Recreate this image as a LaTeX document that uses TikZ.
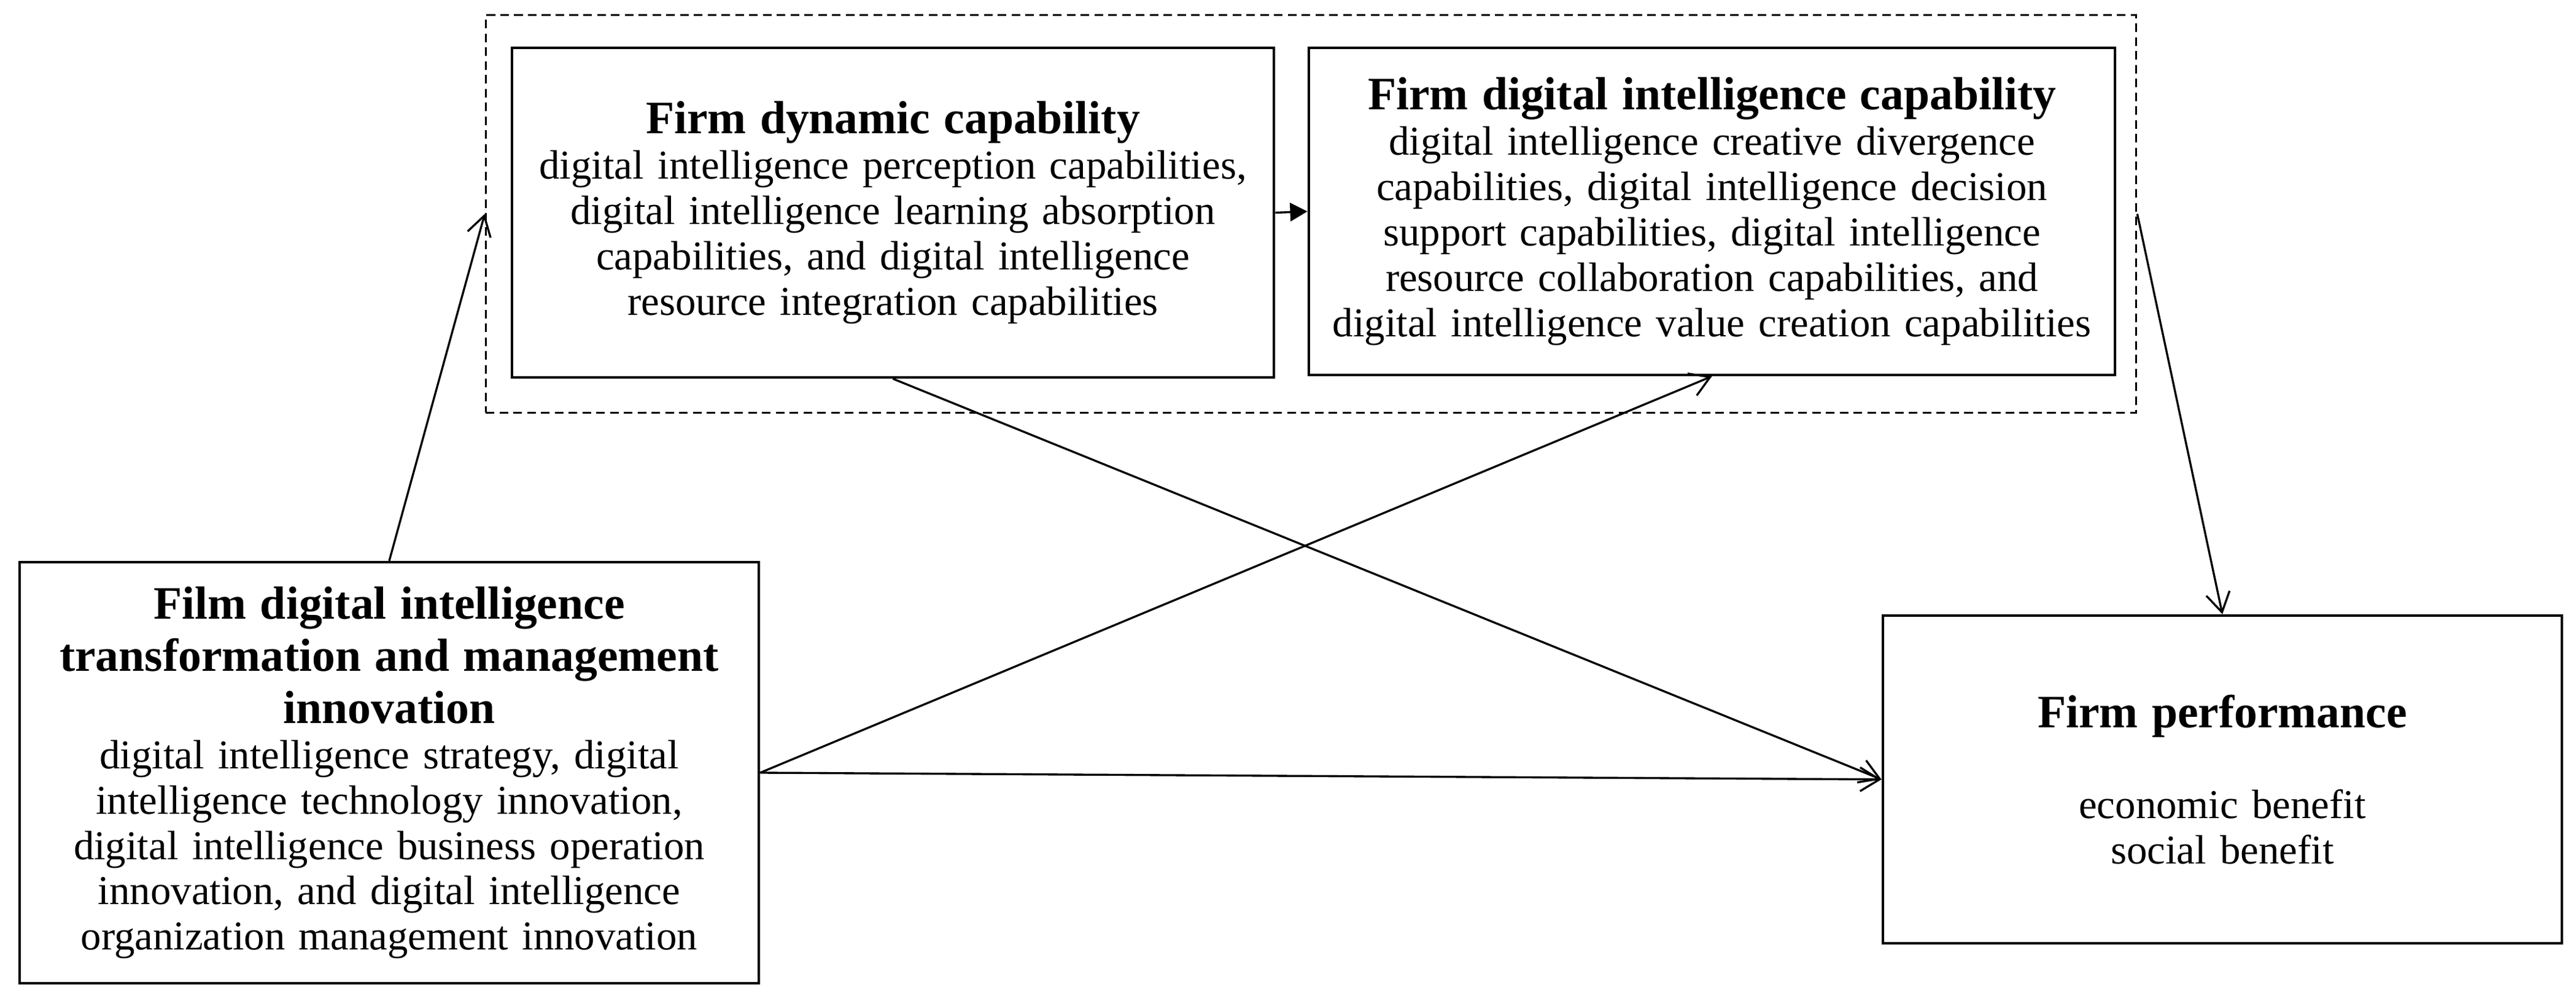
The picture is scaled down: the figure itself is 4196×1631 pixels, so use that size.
\documentclass[tikz,border=0pt]{standalone}
\usepackage{fontspec}
\setmainfont{Liberation Serif}
\usetikzlibrary{arrows.meta}

\newcommand{\capbody}{\fontsize{19}{21}\selectfont}
\newcommand{\captitle}{\fontsize{21.5}{24.2}\selectfont\bfseries}

\begin{document}
\begin{tikzpicture}[
            x = 0.01cm, y = -0.01cm,
            every node/.style={align=center, inner sep=0pt},
            box/.style={draw, rectangle, line width=1.15pt, font=\capbody},
            group/.style={draw, rectangle, line width=0.9pt, dash pattern=on 4pt off 2.4pt},
            line/.style={line width=0.95pt, -{Straight Barb[length=9pt, width=11pt]}},
            link/.style={line width=0.95pt, -{Triangle[length=8pt, width=8.5pt]}},
            ]

        \useasboundingbox (0, 0) rectangle (4196, 1631);

        \node[group, minimum width=26.87cm, minimum height=6.47cm] (dig) at (2135.5, 348.5) {};

        \node[box, minimum width=12.41cm, minimum height=5.37cm, text width=12cm] (dyn) at (1454.5, 346.5)
            {{\captitle Firm dynamic capability\par}
             digital intelligence perception capabilities,\\
             digital intelligence learning absorption\\
             capabilities, and digital intelligence\\
             resource integration capabilities};

        \node[box, minimum width=13.13cm, minimum height=5.33cm, text width=12.8cm] (intel) at (2788.5, 344.5)
            {{\captitle Firm digital intelligence capability\par}
             digital intelligence creative divergence\\
             capabilities, digital intelligence decision\\
             support capabilities, digital intelligence\\
             resource collaboration capabilities, and\\
             digital intelligence value creation capabilities};

        \node[box, minimum width=12.04cm, minimum height=6.86cm, text width=11.7cm] (trans) at (634, 1259)
            {{\captitle Film digital intelligence\\
              transformation and management\\
              innovation\par}
             digital intelligence strategy, digital\\
             intelligence technology innovation,\\
             digital intelligence business operation\\
             innovation, and digital intelligence\\
             organization management innovation};

        \node[box, minimum width=11.06cm, minimum height=5.34cm, text width=10.7cm] (perf) at (3620, 1270)
            {{\captitle Firm performance\par}
             \vspace{21pt}
             economic benefit\\
             social benefit};

        \draw[line] (trans.north) -- (dig.west);
        \draw[link] (dyn.east) -- (intel.west);
        \draw[line] (dig.east) -- (perf.north);
        \draw[line] (dyn.south) -- (perf.west);
        \draw[line] (trans.east) -- (intel.south);
        \draw[line] (trans.east) -- (perf.west);
    \end{tikzpicture}
\end{document}
